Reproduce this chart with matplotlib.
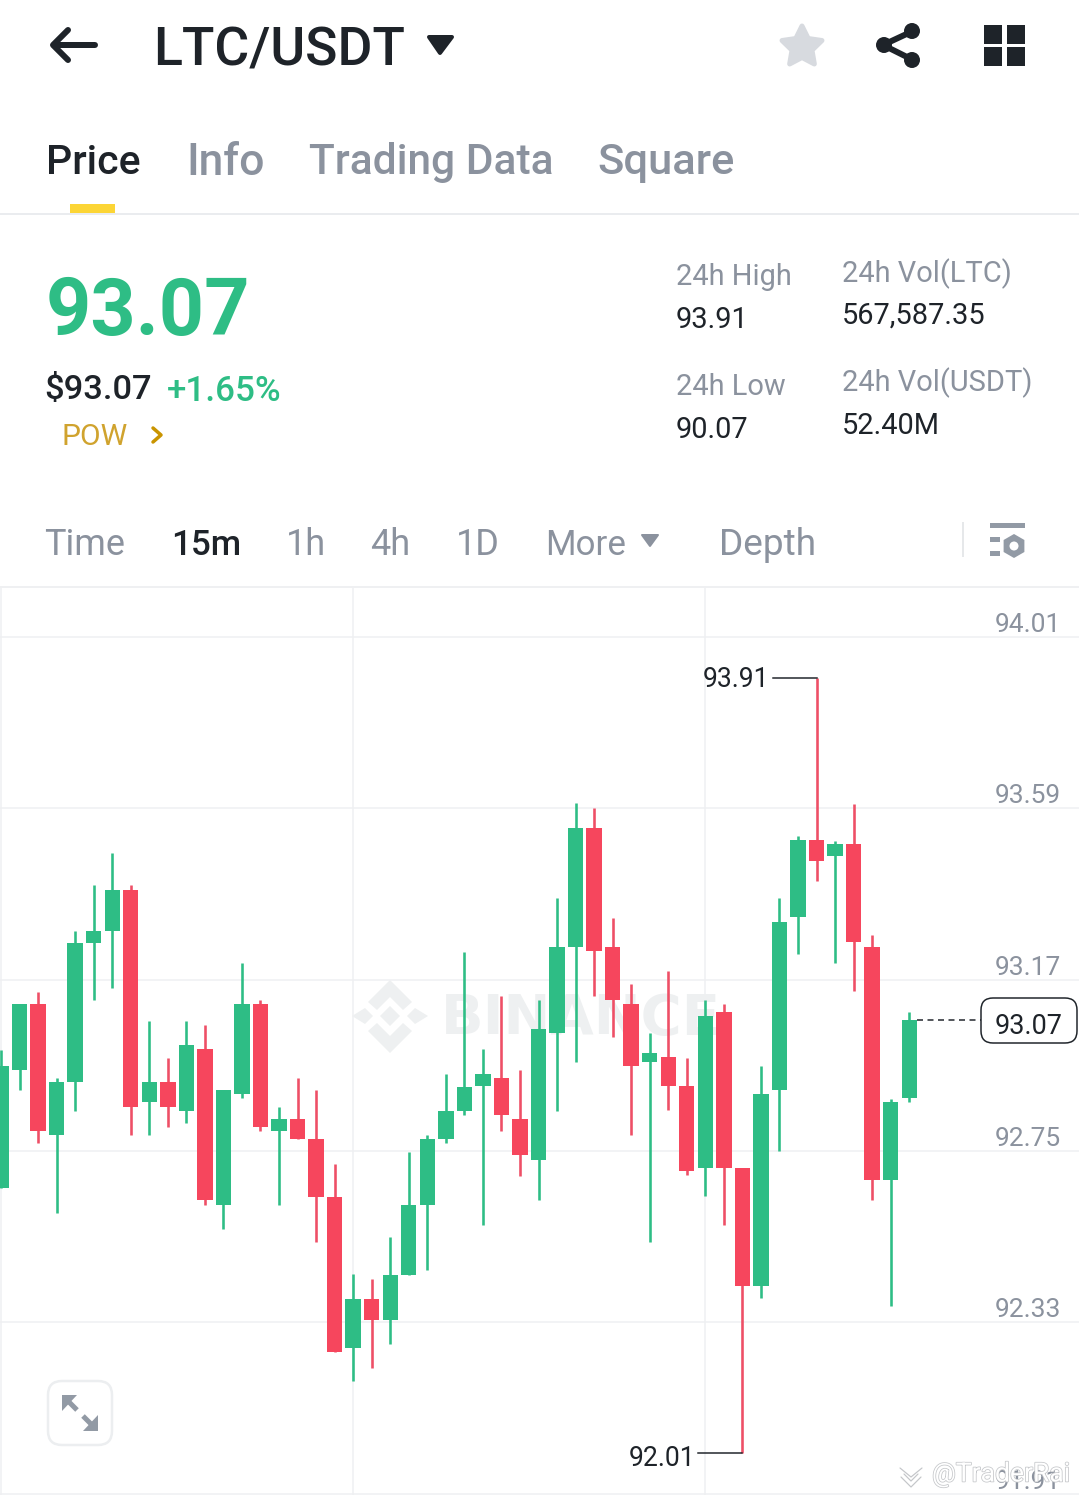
import matplotlib
matplotlib.use("Agg")
import math
import matplotlib.pyplot as plt
from matplotlib.patches import Rectangle, FancyBboxPatch, Polygon, Circle, RegularPolygon
import matplotlib.patheffects as pe

plt.rcParams['font.family'] = ['Roboto', 'DejaVu Sans']

# ---------- data ----------
highs = [92.998,93.11,93.14,92.928,93.29,93.401,93.481,93.401,93.069,92.979,
         93.069,93.059,92.899,93.21,93.119,92.859,92.928,92.899,92.717,92.448,
         92.436,92.538,92.748,92.788,92.938,93.239,93.0,93.13,92.949,93.12,
         93.371,93.602,93.591,93.32,93.159,93.039,93.191,92.979,93.121,93.11,
         92.709,92.959,93.371,93.521,93.91,93.51,93.601,93.28,92.878,93.09]
body_tops = [92.958,93.11,93.11,92.919,93.26,93.29,93.39,93.39,92.919,92.919,
         93.009,92.999,92.899,93.11,93.11,92.829,92.829,92.779,92.638,92.387,
         92.387,92.447,92.618,92.779,92.848,92.908,92.938,92.928,92.829,93.049,
         93.251,93.542,93.542,93.251,93.11,92.99,92.98,92.91,93.08,93.09,
         92.709,92.89,93.311,93.512,93.512,93.502,93.502,93.25,92.869,93.07]
body_bottoms = [92.659,92.949,92.799,92.789,92.919,93.26,93.29,92.859,92.869,92.859,
         92.849,92.629,92.618,92.889,92.809,92.799,92.779,92.638,92.258,92.267,
         92.336,92.336,92.447,92.618,92.78,92.849,92.91,92.839,92.739,92.729,
         93.04,93.251,93.241,93.12,92.959,92.969,92.91,92.7,92.709,92.709,
         92.418,92.418,92.9,93.323,93.462,93.472,93.262,92.679,92.679,92.88]
lows = [92.659,92.899,92.769,92.599,92.849,93.121,93.15,92.789,92.789,92.809,
         92.819,92.618,92.558,92.879,92.799,92.618,92.779,92.528,92.258,92.187,
         92.217,92.277,92.447,92.458,92.769,92.839,92.569,92.799,92.689,92.629,
         92.849,92.969,93.131,93.03,92.789,92.528,92.85,92.69,92.639,92.569,
         92.01,92.389,92.749,93.232,93.412,93.211,93.141,92.63,92.369,92.871]
rising = [1,1,0,1,1,1,1,0,1,0,1,0,1,1,0,1,0,0,0,1,0,1,1,1,1,1,1,0,0,1,
          1,1,0,0,0,1,0,0,1,0,0,1,1,1,0,1,0,0,1,1]
price_ticks = [94.01,93.59,93.17,92.75,92.33,91.91]
time_grid = [0,19,38]
last_price = 93.07
peak_price = 93.91
trough_price = 92.01

GREEN='#2EBD85'; RED='#F6465D'; DARK='#1E2329'; GRAY='#8B929E'; GRID='#EFF0F2'; GOLD='#C99400'
W,H=1079,1496
PX=0.72  # pt per px at dpi 100

fig=plt.figure(figsize=(W/100,H/100),dpi=100,facecolor='white')
ui=fig.add_axes([0,0,1,1],zorder=0); ui.set_xlim(0,W); ui.set_ylim(H,0); ui.axis('off')
top=fig.add_axes([0,0,1,1],zorder=2); top.set_xlim(0,W); top.set_ylim(H,0); top.axis('off')
ax=fig.add_axes([0,1.5/H,1,(1494.5-587)/H],zorder=1); ax.patch.set_visible(False)

def T(x,y,s,px,c=DARK,w='normal',ha='left',a=None,**k):
    return (a or ui).text(x,y+2,s,fontsize=px*PX,color=c,fontweight=w,ha=ha,va='center',**k)
def L(xs,ys,c=DARK,px=3,a=None,**k):
    (a or ui).plot(xs,ys,color=c,lw=px*PX,solid_capstyle=k.pop('cap','round'),solid_joinstyle='round',**k)

# ---------- header ----------
L([54,95],[45,45],px=6); L([68,53,68],[30,45,60],px=6)
T(153,49,'LTC/USDT',53.5,w='medium')
ui.add_patch(Polygon([[429,37],[452,37],[440,53]],fc=DARK,ec=DARK,lw=4*PX,joinstyle='round'))
star=[(802+(21 if k%2==0 else 10.5)*math.sin(k*math.pi/5),47-(21 if k%2==0 else 10.5)*math.cos(k*math.pi/5)) for k in range(10)]
ui.add_patch(Polygon(star,fc='#D7DADF',ec='#D7DADF',lw=5*PX,joinstyle='round'))
L([913,883,913],[31,45,60],px=6)
for cx,cy in [(912,31),(884,45),(912,60)]:
    ui.add_patch(Circle((cx,cy),8,fc=DARK,ec='none'))
for x0 in (984,1007):
    for y0 in (25,47):
        ui.add_patch(Rectangle((x0,y0),18,18.5,fc=DARK,ec='none'))

T(46,160.5,'Price',41,w='medium')
T(186,160.5,'Info',44.5,GRAY,w='medium')
T(309,160.5,'Trading Data',42.5,GRAY,w='medium')
T(597,160.5,'Square',43.5,GRAY,w='medium')
ui.add_patch(Rectangle((70,204),45,9,fc='#FCD535',ec='none'))
L([0,W],[214,214],c='#EAECEF',px=2,cap='butt')

# ---------- price block ----------
T(46,311,'93.07',79,GREEN,w='bold')
T(44,388,'$93.07',34.5,DARK,w='medium')
T(167,389,'+1.65%',35,GREEN,w='medium')
T(62,435,'POW',30,'#D0A32E')
L([153,161,153],[428,435,442],c=GOLD,px=3.5)

for x,y,s,c in [(676,275,'24h High',GRAY),(676,318,'93.91',DARK),(676,385,'24h Low',GRAY),(676,428,'90.07',DARK),
                (842,272,'24h Vol(LTC)',GRAY),(842,314,'567,587.35',DARK),(842,381,'24h Vol(USDT)',GRAY),(842,424,'52.40M',DARK)]:
    T(x,y,s,29,c)

# ---------- interval tabs ----------
for x,s,p in [(44,'Time',36),(286,'1h',36),(370,'4h',36),(456,'1D',36),(545,'More',35),(719,'Depth',37)]:
    T(x,543,s,p,GRAY)
T(171,543,'15m',35,DARK,w='medium')
ui.add_patch(Polygon([[642,535],[658,535],[650,546]],fc=GRAY,ec=GRAY,lw=2*PX,joinstyle='round'))
L([963,963],[522,557],c='#E6E8EA',px=2,cap='butt')
SET='#929AA5'
ui.add_patch(Rectangle((990,523),35,5,fc=SET,ec='none'))
ui.add_patch(Rectangle((990,537),10,5,fc=SET,ec='none'))
ui.add_patch(Rectangle((990,551),10,5,fc=SET,ec='none'))
ui.add_patch(RegularPolygon((1014,546),6,radius=12,fc=SET,ec='none'))
ui.add_patch(Circle((1014,546),4.5,fc='white',ec='none'))

# ---------- background watermark ----------
WM='#EEF0F1'
for pts in [[[390,980],[412,1002],[403,1010],[390,997],[377,1010],[368,1002]],
            [[390,1053],[412,1031],[403,1023],[390,1036],[377,1023],[368,1031]],
            [[390,1006],[400,1016],[390,1026],[380,1016]],
            [[365,1008],[373,1016],[365,1024],[352,1016]],
            [[415,1008],[428,1016],[415,1024],[407,1016]]]:
    ui.add_patch(Polygon(pts,fc=WM,ec='none'))
T(441,1017,'BINANCE',56,WM,w='bold',family='DejaVu Sans')

# ---------- candles ----------
idx=list(range(len(highs)))
up=[i for i in idx if rising[i]]; dn=[i for i in idx if not rising[i]]
ax.vlines(up,[lows[i] for i in up],[highs[i] for i in up],color=GREEN,lw=2.6*PX,zorder=3)
ax.vlines(dn,[lows[i] for i in dn],[highs[i] for i in dn],color='#EE4F66',lw=2.6*PX,zorder=3)
ax.bar(up,[body_tops[i]-body_bottoms[i] for i in up],bottom=[body_bottoms[i] for i in up],width=0.83,color=GREEN,zorder=4)
ax.bar(dn,[body_tops[i]-body_bottoms[i] for i in dn],bottom=[body_bottoms[i] for i in dn],width=0.83,color=RED,zorder=4)

SP=18.535; X0=1.0
ax.set_xlim((0-X0)/SP,(W-X0)/SP)
ax.set_ylim(91.908,94.1325)
ax.set_xticks(time_grid); ax.set_xticklabels([])
ax.set_yticks(price_ticks); ax.set_yticklabels([f'{v:.2f}' for v in price_ticks])
ax.yaxis.tick_right()
ax.tick_params(axis='x',length=0)
ax.tick_params(axis='y',length=0,pad=-13,labelsize=19,labelcolor=GRAY)
for t in ax.yaxis.get_major_ticks():
    t.label2.set_ha('right'); t.label2.set_va('bottom')
ax.grid(True,color=GRID,lw=1.5*PX,zorder=0)
ax.set_axisbelow(True)
for s in ('left','right','bottom'):
    ax.spines[s].set_visible(False)
ax.spines['top'].set_color(GRID); ax.spines['top'].set_linewidth(2*PX)

# extreme markers
i_hi=highs.index(peak_price); i_lo=lows.index(trough_price); i_last=idx[-1]
ax.plot([i_hi-2.37,i_hi],[peak_price]*2,color=DARK,lw=1.5*PX,zorder=5)
ax.plot([i_lo-2.37,i_lo],[trough_price]*2,color=DARK,lw=1.5*PX,zorder=5)
ax.annotate(f'{peak_price:.2f}',(i_hi-2.55,peak_price),xytext=(0,-1),textcoords='offset points',fontsize=26.5*PX,color=DARK,ha='right',va='center',zorder=5)
ax.annotate(f'{trough_price:.2f}',(i_lo-2.55,trough_price),xytext=(0,-4),textcoords='offset points',fontsize=26.5*PX,color=DARK,ha='right',va='center',zorder=5)
ax.plot([i_last+0.4,(981-X0)/SP],[last_price]*2,color=DARK,lw=1.5*PX,ls=(0,(4,3)),zorder=5)

# ---------- overlays ----------
top.add_patch(FancyBboxPatch((993,1010),72,21,boxstyle='round,pad=12,rounding_size=12',fc='white',ec=DARK,lw=1.5*PX))
T(1029,1025,f'{last_price:.2f}',27,DARK,ha='center',a=top)

top.add_patch(FancyBboxPatch((62,1395),36,36,boxstyle='round,pad=14,rounding_size=14',fc='white',ec='#ECEEF0',lw=2.5*PX))
top.add_patch(Polygon([[62,1395],[77,1395],[62,1411]],fc=SET,ec='none'))
top.add_patch(Polygon([[98,1431],[83,1431],[98,1415]],fc=SET,ec='none'))
L([68,77],[1401,1410],c=SET,px=5,a=top,cap='butt')
L([92,83],[1425,1416],c=SET,px=5,a=top,cap='butt')

# credit watermark
STK='#C4C6C9'
T(932,1472,'@TraderRai',26.5,'white',a=top,path_effects=[pe.withStroke(linewidth=1.1,foreground=STK)])
L([900,911,922],[1468,1477,1468],c=STK,px=1.2,a=top)
L([904,911,918],[1474,1481,1474],c=STK,px=1.2,a=top)
L([901,911,921],[1477,1487,1477],c=STK,px=1.2,a=top)

fig.savefig('out.png',dpi=100,facecolor='white')
